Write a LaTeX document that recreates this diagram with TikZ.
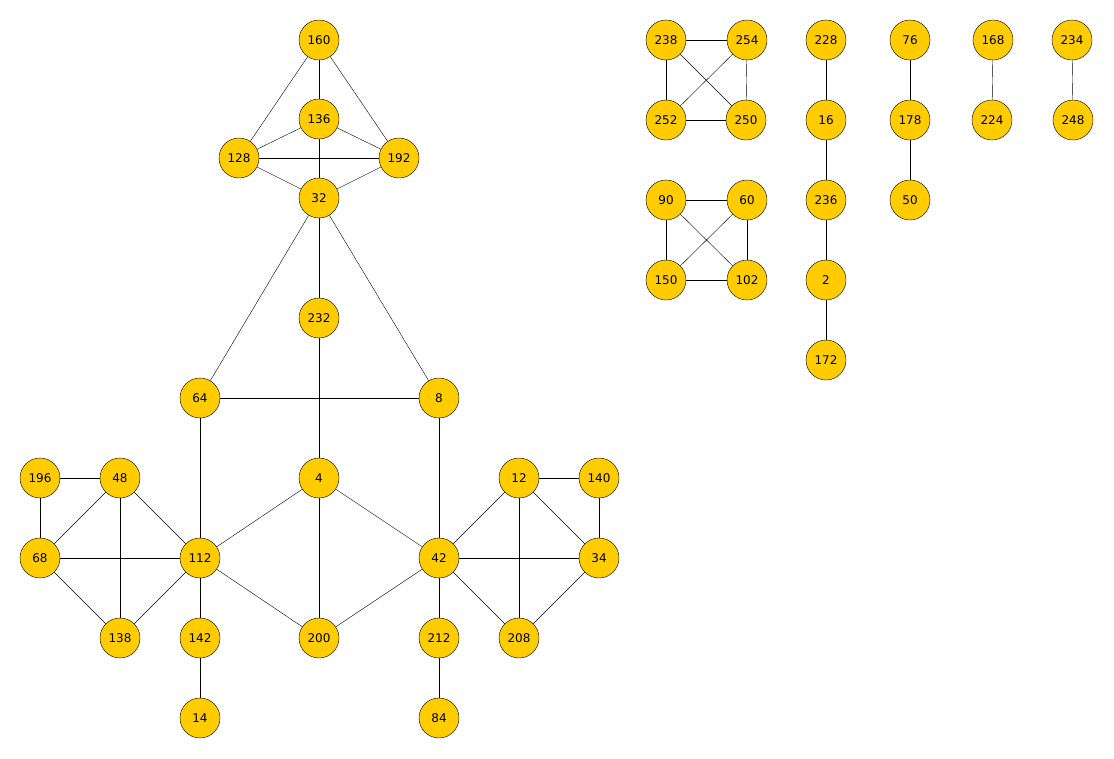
\documentclass[tikz,border=0pt]{standalone}
\usepackage{fontspec}
\setmainfont{DejaVu Sans}
\definecolor{nodey}{HTML}{FFCC00}
\begin{document}
\begin{tikzpicture}[x=1pt,y=-1pt,
  vert/.style={circle,draw=black,fill=nodey,minimum size=40pt,inner sep=0pt,font=\fontsize{12}{14}\selectfont}]
\useasboundingbox (0,0) rectangle (1114,758);
\foreach \n/\x/\y in {160/319/40,136/319/119,128/239/158,192/399/158,32/319/198,232/319/318,64/200/398,8/439/398,4/319/478,196/40/478,48/120/478,68/40/558,112/200/558,138/120/638,142/200/638,14/200/718,200/319/638,42/439/558,12/519/478,140/599/478,34/599/558,212/439/638,208/519/638,84/439/718,238/666/40,254/747/40,252/666/120,250/746/120,228/826/40,16/826/120,236/826/200,2/826/280,172/826/360,76/910/40,178/910/120,50/910/200,168/993/40,224/992/120,234/1072/40,248/1073/120,90/666/200,60/747/200,150/666/280,102/747/280}
  \node[vert] (n\n) at (\x,\y) {\n};
\begin{scope}[on background layer/.style={}]
\foreach \a/\b in {160/136,160/128,160/192,136/128,136/192,136/32,128/192,128/32,192/32,32/232,32/64,32/8,232/4,64/8,64/112,8/42,4/112,4/42,4/200,196/48,196/68,48/68,48/112,48/138,68/112,68/138,112/138,112/142,142/14,112/200,200/42,42/12,42/34,42/208,42/212,212/84,12/140,12/34,12/208,140/34,34/208,238/254,238/252,238/250,254/252,254/250,252/250,90/60,90/150,90/102,60/150,60/102,150/102,228/16,16/236,236/2,2/172,76/178,178/50,168/224,234/248}
  \draw (n\a) -- (n\b);
\end{scope}
\end{tikzpicture}
\end{document}
